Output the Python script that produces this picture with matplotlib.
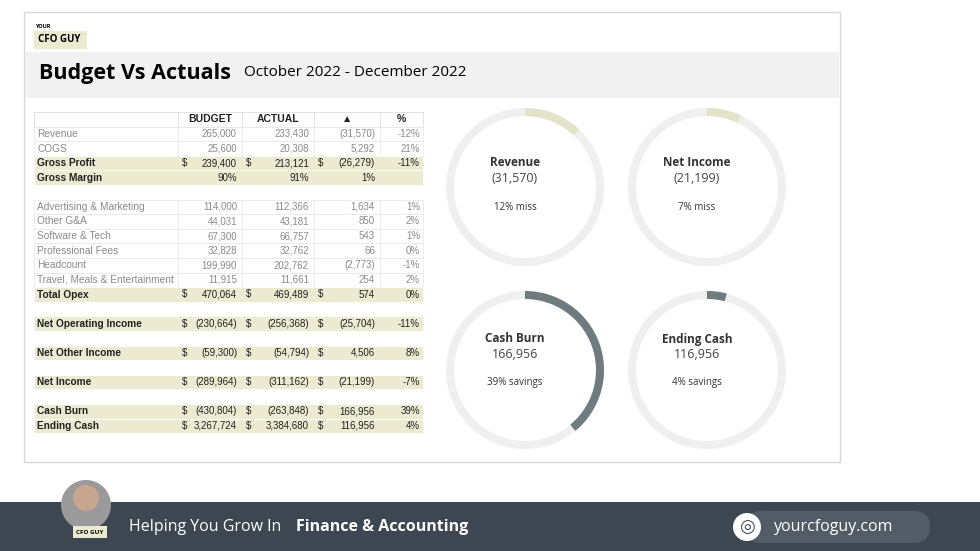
import matplotlib
matplotlib.use("Agg")
import matplotlib.pyplot as plt
from matplotlib.patches import Rectangle, Wedge, Circle, FancyBboxPatch

row_labels = ["Revenue", "COGS", "Gross Profit", "Gross Margin", "",
              "Advertising & Marketing", "Other G&A", "Software & Tech", "Professional Fees",
              "Headcount", "Travel, Meals & Entertainment", "Total Opex", "",
              "Net Operating Income", "", "Net Other Income", "", "Net Income", "",
              "Cash Burn", "Ending Cash"]
budget = [265000, 25600, 239400, 90, None, 114000, 44031, 67300, 32828, 199990, 11915, 470064,
          None, -230664, None, -59300, None, -289964, None, -430804, 3267724]
actual = [233430, 20308, 213121, 91, None, 112366, 43181, 66757, 32762, 202762, 11661, 469489,
          None, -256368, None, -54794, None, -311162, None, -263848, 3384680]
delta = [-31570, 5292, -26279, 1, None, 1634, 850, 543, 66, -2773, 254, 574,
         None, -25704, None, 4506, None, -21199, None, 166956, 116956]
pct = [-12, 21, -11, None, None, 1, 2, 1, 0, -1, 2, 0, None, -11, None, 8, None, -7, None, 39, 4]
highlight = [0, 0, 1, 1, 0, 0, 0, 0, 0, 0, 0, 1, 0, 1, 0, 1, 0, 1, 0, 1, 1]
header = ["BUDGET", "ACTUAL", "\u25B2", "%"]

kpi_names = ["Revenue", "Net Income", "Cash Burn", "Ending Cash"]
kpi_values = ["(31,570)", "(21,199)", "166,956", "116,956"]
kpi_pct = [12, 7, 39, 4]
kpi_notes = ["12% miss", "7% miss", "39% savings", "4% savings"]

W, H = 980, 551
fig = plt.figure(figsize=(9.8, 5.51), dpi=100)
ax = fig.add_axes([0, 0, 1, 1])
ax.set_xlim(0, W); ax.set_ylim(H, 0); ax.axis("off")
BEIGE = "#ecebd2"
TF = "Liberation Sans"

ax.add_patch(Rectangle((24, 12), 816, 450, fc="white", ec="#d8d8d8", lw=1))
ax.add_patch(Rectangle((25, 52), 814, 46, fc="#f1f1f2", ec="none"))
ax.text(35, 26, "YOUR", fontsize=4, fontweight="bold", family="Open Sans", va="center")
ax.add_patch(Rectangle((34, 31), 53, 18, fc=BEIGE, ec="none"))
ax.text(38, 40, "CFO GUY", fontsize=7, fontweight="bold", family="Open Sans", va="center")
ax.text(39, 73, "Budget Vs Actuals", fontsize=15.5, fontweight="bold", family="Open Sans", va="center")
ax.text(244, 73, "October 2022 - December 2022", fontsize=11, family="Open Sans", va="center")

# table
x0, xb, xa, xd, xp, x1 = 34, 178, 242, 314, 380, 423
y0, rh = 112, 14.6
def fmt(v):
    if v is None: return ""
    return f"({abs(v):,})" if v < 0 else f"{v:,}"
def y(i): return y0 + rh * (i + 0.5)
ax.add_patch(Rectangle((x0, y0), x1 - x0, rh, fc="white", ec="#dcdcdc", lw=0.6))
for j, (a, b) in enumerate([(xb, xa), (xa, xd), (xd, xp), (xp, x1)]):
    ax.text((a + b) / 2, y(0), header[j], fontsize=7.5, fontweight="bold", family=TF,
            ha="center", va="center", color="#222")
for k in (xb, xa, xd, xp):
    ax.plot([k, k], [y0, y0 + rh], color="#dcdcdc", lw=0.6)
for i, lab in enumerate(row_labels):
    r = i + 1
    top = y0 + rh * r
    hl = highlight[i]
    if lab == "":
        continue
    if hl:
        ax.add_patch(Rectangle((x0, top), x1 - x0, rh, fc=BEIGE, ec="white", lw=0.6))
    else:
        ax.add_patch(Rectangle((x0, top), x1 - x0, rh, fc="white", ec="#e6e6e6", lw=0.5))
        for k in (xb, xa, xd, xp):
            ax.plot([k, k], [top, top + rh], color="#e6e6e6", lw=0.5)
    col = "#222" if hl else "#8a8a8a"
    fw = "bold" if hl else "normal"
    ax.text(x0 + 3, y(r), lab, fontsize=7.3, fontweight=fw, family=TF, va="center", color=col)
    is_pct = lab == "Gross Margin"
    dollar = hl and not is_pct
    for (a, b), v in zip([(xb, xa), (xa, xd), (xd, xp)], [budget[i], actual[i], delta[i]]):
        s = (f"{v}%" if v is not None else "") if is_pct else fmt(v)
        ax.text(b - 5, y(r), s, fontsize=7, family=TF, ha="right", va="center", color=col)
        if dollar:
            ax.text(a + 4, y(r), "$", fontsize=7, family=TF, va="center", color=col)
    if pct[i] is not None:
        ax.text(x1 - 3, y(r), f"{pct[i]}%", fontsize=7, family=TF, ha="right", va="center", color=col)

# donuts
centers = [(525, 187), (707, 187), (525, 370), (707, 370)]
text_dy = [(-24, -9, 21), (-24, -9, 21), (-31, -15, 13), (-31, -15, 13)]
arc_cols = ["#e4e3c9", "#e4e3c9", "#6e7b7f", "#6e7b7f"]
R, w = 79, 8
for (cx, cy), name, val, p, note, ac, dy in zip(centers, kpi_names, kpi_values, kpi_pct, kpi_notes, arc_cols, text_dy):
    ax.add_patch(Wedge((cx, cy), R, 0, 360, width=w, fc="#efefef", ec="none"))
    ax.add_patch(Wedge((cx, cy), R, 270, 270 + 360 * p / 100, width=w, fc=ac, ec="none"))
    ax.text(cx - 10, cy + dy[0], name, fontsize=8.5, fontweight="bold", family="Open Sans",
            ha="center", va="center", color="#333")
    ax.text(cx - 10, cy + dy[1], val, fontsize=9, family="Open Sans", ha="center", va="center", color="#444")
    ax.text(cx - 10, cy + dy[2], note, fontsize=7, family="Open Sans", ha="center", va="center", color="#333")

# footer
ax.add_patch(Rectangle((0, 502), W, 49, fc="#3d4751", ec="none"))
ax.add_patch(Circle((86, 505), 25, fc="#9a9a9a", ec="none"))
ax.add_patch(Circle((86, 498), 13, fc="#c8a58e", ec="none"))
ax.add_patch(Rectangle((73, 526), 34, 12, fc=BEIGE, ec="none"))
ax.text(90, 532, "CFO GUY", fontsize=4.5, fontweight="bold", family="Open Sans", ha="center", va="center")
ax.text(129, 527, "Helping You Grow In", fontsize=11.5, family="Open Sans", color="white", va="center")
ax.text(296, 527, "Finance & Accounting", fontsize=11.5, fontweight="bold", family="Open Sans",
        color="white", va="center")
ax.add_patch(FancyBboxPatch((745, 511), 185, 32, boxstyle="round,pad=0,rounding_size=16",
                            fc="#525c66", ec="none"))
ax.add_patch(Circle((747, 527), 14, fc="white", ec="none"))
ax.text(747, 527, "\u25CE", fontsize=13, ha="center", va="center", color="#3d4751")
ax.text(773, 527, "yourcfoguy.com", fontsize=11.5, family="Open Sans", color="white", va="center")

fig.savefig("out.png", dpi=100)
